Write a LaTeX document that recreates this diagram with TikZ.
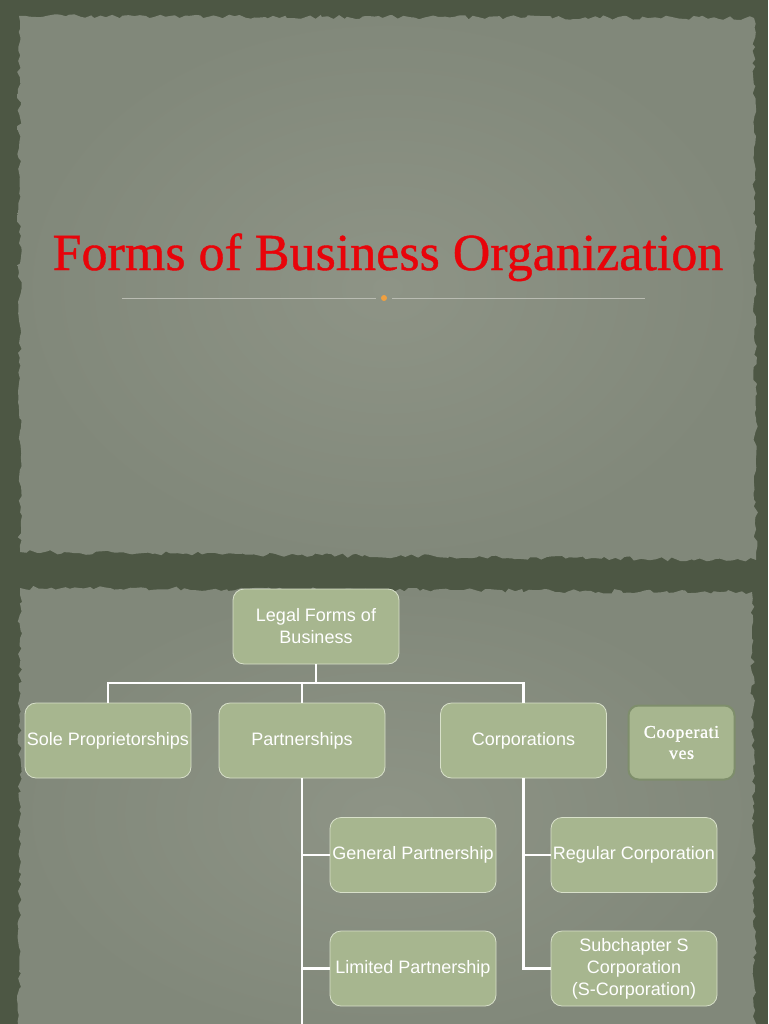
\documentclass[tikz,border=0pt]{standalone}
\usepackage{fontspec}
\setmainfont{Liberation Serif}
\setsansfont{Liberation Sans}
\newfontfamily\coopfont[LetterSpace=3,FakeBold=1.2]{Liberation Serif}
\newfontfamily\titlefont[FakeBold=0.8]{Liberation Serif}
\usetikzlibrary{decorations.pathmorphing}
\definecolor{bgdark}{HTML}{4D5744}
\definecolor{panelL}{HTML}{8E9486}
\definecolor{panelD}{HTML}{81887A}
\definecolor{boxgreen}{HTML}{A7B68F}
\definecolor{boxedge}{HTML}{D8E0CA}
\definecolor{coopedge}{HTML}{7E8E6B}
\definecolor{titlered}{HTML}{E8040A}
\definecolor{rulegray}{HTML}{B9BCB2}
\definecolor{dotorange}{HTML}{F0A040}
\tikzset{
  orgbox/.style={draw=boxedge, line width=0.8pt, fill=boxgreen, rounded corners=11pt,
    minimum width=166pt, minimum height=75pt, text=white, align=center, inner sep=0pt,
    font=\sffamily\fontsize{18}{22}\selectfont},
  coopbox/.style={draw=coopedge, line width=2pt, fill=boxgreen, rounded corners=10pt,
    minimum width=106pt, minimum height=74pt, text=white, align=center, inner sep=0pt,
    font=\coopfont\fontsize{18}{21}\selectfont},
  conn/.style={draw=white, line width=2.5pt},
  torn/.style={decorate, decoration={random steps, segment length=5pt, amplitude=2.2pt}},
  titlerule/.style={draw=rulegray, line width=1pt}
}
\begin{document}
\begin{tikzpicture}[x=1pt,y=-1pt]
\useasboundingbox (0,0) rectangle (768,1024);
\fill[bgdark] (0,0) rectangle (768,1024);
\pgfmathsetseed{11}
% top panel
\shade[torn, inner color=panelL, outer color=panelD]
  (19,16) -- (754,18) -- (756,560) -- (20,552) -- cycle;
% bottom panel
\shade[torn, inner color=panelL, outer color=panelD]
  (20,588) -- (752,592) -- (755,1040) -- (19,1040) -- cycle;

% title
\node[font=\titlefont\fontsize{52}{60}\selectfont, text=titlered, anchor=base] (title) at (388,270) {Forms of Business Organization};
\node[circle, fill=dotorange, inner sep=0pt, minimum size=6pt] (dot) at (384,298) {};
\coordinate (ruleL) at (122,298);
\coordinate (ruleR) at (645,298);
\draw[titlerule] (ruleL) -- ([xshift=-5pt]dot.west);
\draw[titlerule] ([xshift=5pt]dot.east) -- (ruleR);

% org chart
\node[orgbox] (legal) at (316,626.5) {Legal Forms of\\Business};
\node[orgbox] (sole) at (108,740.5) {Sole Proprietorships};
\node[orgbox] (part) at (302,740.5) {Partnerships};
\node[orgbox] (corp) at (523.5,740.5) {Corporations};
\node[coopbox] (coop) at (681.5,742.5) {Cooperati\\ves};
\node[orgbox] (gen) at (413,855) {General Partnership};
\node[orgbox] (reg) at (634,855) {Regular Corporation};
\node[orgbox] (lim) at (413,968.5) {Limited Partnership};
\node[orgbox] (sub) at (634,968.5) {Subchapter S\\Corporation\\(S-Corporation)};

\coordinate (hub) at (316,683);
\coordinate (pend) at (302,1030);
\draw[conn] (legal.south) -- (hub);
\draw[conn] (sole.north) -- (sole.north |- hub) -- (corp.north |- hub) -- (corp.north);
\draw[conn] (part.north) -- (part.north |- hub);
\draw[conn] (part.south) -- (pend);
\draw[conn] (gen.west) -- (gen.west -| part.south);
\draw[conn] (lim.west) -- (lim.west -| part.south);
\draw[conn] (corp.south) -- (corp.south |- sub.west) -- (sub.west);
\draw[conn] (reg.west) -- (reg.west -| corp.south);
\end{tikzpicture}
\end{document}
